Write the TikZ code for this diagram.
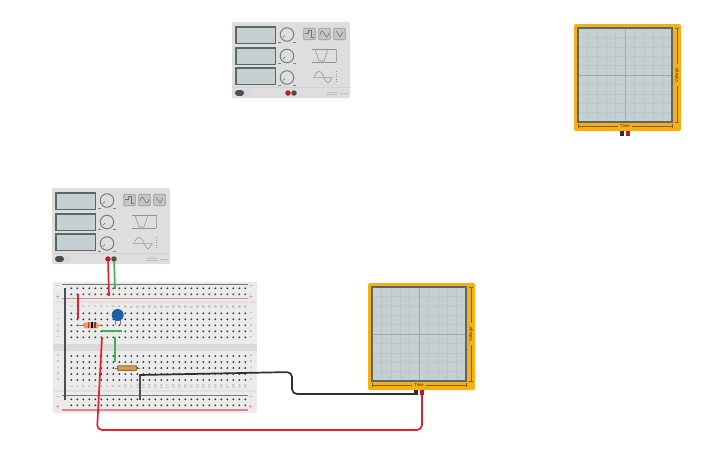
\documentclass[tikz,border=0pt]{standalone}
\usepackage{fontspec}
\setmainfont{Liberation Sans}
\usetikzlibrary{positioning, arrows.meta}
\definecolor{panelgray}{HTML}{DEDEDE}
\definecolor{screengray}{HTML}{C6D0D3}
\definecolor{screenedge}{HTML}{5C6868}
\definecolor{gridgray}{HTML}{BCC6C9}
\definecolor{scopeorange}{HTML}{F5AF17}
\definecolor{boardgray}{HTML}{EBEBEB}
\definecolor{boardband}{HTML}{DADADA}
\definecolor{railred}{HTML}{D98A8A}
\definecolor{railgray}{HTML}{777777}
\definecolor{holegray}{HTML}{3A3F42}
\definecolor{wirered}{HTML}{E3202B}
\definecolor{wiregreen}{HTML}{3DB54A}
\definecolor{wiredark}{HTML}{2B2F33}
\definecolor{restan}{HTML}{D9A75F}
\definecolor{resbrown}{HTML}{A5652A}
\definecolor{capblue}{HTML}{1F5FA8}
\tikzset{
	display/.style={draw=screenedge, line width=1.5pt, fill=screengray, minimum width=39.5pt, minimum height=16.5pt, inner sep=0pt},
	knob/.style={draw=screenedge!85, line width=1pt, circle, fill=panelgray, minimum size=13.5pt, inner sep=0pt},
	wavebtn/.style={draw=gray!80, line width=.6pt, fill=gray!45, rounded corners=.8pt, minimum size=11.5pt, inner sep=0pt},
	wave/.style={draw=gray!85, line width=.55pt},
	post/.style={circle, minimum size=5.5pt, inner sep=0pt},
	probe/.style={minimum width=3.6pt, minimum height=5pt, inner sep=0pt},
	wire/.style={line width=1.7pt, rounded corners=5pt},
	tiny/.style={font=\fontsize{3}{3.5}\selectfont, text=black!55, inner sep=0pt},
	axislabel/.style={font=\fontsize{4.2}{5}\selectfont, text=black!80, inner sep=0pt},
	psupanel/.pic={
		\fill[panelgray, rounded corners=1pt] (0,0) rectangle (118,76);
		\node[display] (-d1) at (23.5,13) {};
		\node[display] (-d2) at (23.5,34) {};
		\node[display] (-d3) at (23.5,54) {};
		\node[knob] (-k1) at (55,12.5) {};
		\node[knob] (-k2) at (55,34) {};
		\node[knob] (-k3) at (55,55.5) {};
		\foreach \k in {12.5,34,55.5} {
			\draw[screenedge, line width=.5pt] (51,\k+3) -- (53,\k+1);
			\draw[gray, line width=.4pt] (46,\k+7.5) -- (49,\k+7.5) (61,\k+7.5) -- (64,\k+7.5);
		}
		\node[wavebtn] (-b1) at (77.5,12) {};
		\node[wavebtn] (-b2) at (92.5,12) {};
		\node[wavebtn] (-b3) at (107.5,12) {};
		\draw[wave, draw=black!55] (73,11) -- (76,11) -- (76,8) -- (79,8) -- (79,15) -- (82,15);
		\draw[wave, draw=black!55] (88,13) sin (90,9) cos (92.5,12) sin (95,15) cos (97,11);
		\draw[wave, draw=black!55] (104,9) -- (108,15) -- (111,10);
		\draw[wave] (80,27) -- (104,27) (80,40) -- (104,40);
		\draw[wave] (83,27) -- (87,39) -- (92,39) -- (96,27);
		\draw[wave, draw=gray!70, line width=1pt] (104,27) -- (104,40);
		\draw[wave] (82,55) sin (87,49) cos (92,55) sin (96,61) cos (100,55);
		\draw[wave, draw=gray!60] (81,55) -- (101,55);
		\draw[wave, dotted, line width=.9pt] (104,49) -- (104,61);
		\draw[panelgray!94!black, line width=.4pt] (0,65.5) -- (118,65.5);
		\draw[line width=6pt, line cap=round, draw=gray!30] (8,71) -- (15,71);
		\draw[line width=6pt, line cap=round, draw=wiredark!85] (6,71) -- (9,71);
		\node[post, fill=wirered!85!black] (-red) at (56,71) {};
		\node[post, fill=wiredark!85] (-blk) at (62,71) {};
		\draw[panelgray!85!black, line width=.5pt] (95,70) -- (105,70) (95,72) -- (105,72) (108,71) -- (116,71);
	},
	scopepanel/.pic={
		\fill[scopeorange, rounded corners=1.5pt] (0,0) rectangle (107,107);
		\fill[screengray] (4,4) rectangle (98,98);
		\foreach \k in {1,...,9} {
			\draw[gridgray, line width=.35pt] (4+9.4*\k,4) -- (4+9.4*\k,98);
			\draw[gridgray, line width=.35pt] (4,4+9.4*\k) -- (98,4+9.4*\k);
		}
		\draw[gridgray!85!black, line width=.5pt] (51,4) -- (51,98) (4,51) -- (98,51);
		\draw[screenedge, line width=1.4pt] (4,4) rectangle (98,98);
		\node[axislabel] (-time) at (51,102) {Time};
		\node[axislabel, rotate=90] (-volt) at (103,51) {Voltage};
		\draw[black!45!scopeorange, line width=.35pt, |-] (4,102) -- (44,102);
		\draw[black!45!scopeorange, line width=.35pt, -|] (58,102) -- (98,102);
		\draw[black!45!scopeorange, line width=.35pt, |-] (103,4) -- (103,40);
		\draw[black!45!scopeorange, line width=.35pt, -|] (103,62) -- (103,98);
		\node[probe, fill=wiredark] (-blk) at (48,109) {};
		\node[probe, fill=wirered!80!black] (-red) at (54,109) {};
	},
}
\begin{document}
\begin{tikzpicture}[x=1pt,y=-1pt]
	\useasboundingbox (0,0) rectangle (725,453);

	% supplies and scopes
	\pic (psutop) at (232,22) {psupanel};
	\pic (psuboard) at (52,188) {psupanel};
	\pic (scopetop) at (574,24) {scopepanel};
	\pic (scopeboard) at (368,283) {scopepanel};

	% breadboard
	\fill[boardgray] (53,282) rectangle (257,413);
	\fill[boardband] (53,344) rectangle (257,351);
	\fill[boardband!60!boardgray] (53,301) rectangle (257,303);
	\fill[boardband!60!boardgray] (53,390) rectangle (257,392);
	\draw[railgray, line width=1pt] (62,284) -- (248,284) (62,395) -- (248,395);
	\draw[railred, line width=1.3pt] (62,298.7) -- (248,298.7) (62,410) -- (248,410);
	\foreach \row in {288.3,294.3,313.3,319.3,325.3,331.3,337.3,356,362,368,374,380,399.3,405.3} {
		\foreach \col in {0,...,29} {
			\fill[holegray] (71.3+6*\col,\row) circle (1.05pt);
		}
	}
	\foreach \col in {1,...,30} {
		\node[tiny, rotate=90] (ctop\col) at (65.3+6*\col,307) {\col};
		\node[tiny, rotate=90] (cbot\col) at (65.3+6*\col,386.5) {\col};
	}
	\foreach \lbl/\row in {j/313.3,i/319.3,h/325.3,g/331.3,f/337.3,e/356,d/362,c/368,b/374,a/380} {
		\node[tiny, rotate=90] at (58,\row) {\lbl};
		\node[tiny, rotate=90] at (251,\row) {\lbl};
	}
	\foreach \side in {58,251} {
		\node[tiny] at (\side,286) {$-$};
		\node[tiny, text=wirered] at (\side,297.5) {$+$};
		\node[tiny] at (\side,397) {$-$};
		\node[tiny, text=wirered] at (\side,407.5) {$+$};
	}

	% wire ends on the board
	\coordinate (railp) at (109,296);
	\coordinate (railn) at (115,289);
	\coordinate (jumpa) at (78,294);
	\coordinate (jumpb) at (78,319.3);
	\coordinate (gnda) at (65.3,288);
	\coordinate (gndb) at (65.3,400);
	\coordinate (linka) at (102,331.3);
	\coordinate (linkb) at (122,331.3);
	\coordinate (vina) at (102,337.3);
	\coordinate (stepa) at (115,337.3);
	\coordinate (stepb) at (115,362);
	\coordinate (outa) at (139.5,375);
	\coordinate (outb) at (139.5,400);

	% parts
	\draw[gray, line width=1pt] (77,325.3) -- (103,325.3);
	\node[fill=restan, rounded corners=1.5pt, minimum width=15pt, minimum height=6pt, inner sep=0pt] (resa) at (91,325.3) {};
	\fill[wirered] (87.5,322.3) rectangle (89.3,328.3);
	\fill[black] (91.3,322.3) rectangle (93,328.3);
	\fill[resbrown!70!black] (94,322.3) rectangle (95.7,328.3);
	\draw[gray, line width=1pt] (115,319) -- (115,325.3) (120.5,319) -- (120.5,325.3);
	\node[fill=capblue, circle, minimum size=12pt, inner sep=0pt] (capa) at (117.7,315) {};
	\draw[resbrown, line width=1pt] (115,368) -- (140,368);
	\node[fill=restan!85!resbrown, draw=resbrown, line width=1pt, rounded corners=.5pt, minimum width=19pt, minimum height=4.5pt, inner sep=0pt] (resb) at (127,368) {};

	% wires
	\draw[wire, wiredark!85, line width=2pt] (gnda) -- (gndb);
	\draw[wire, wirered] (jumpa) -- (jumpb);
	\draw[wire, wirered] (psuboard-red) -- (railp);
	\draw[wire, wiregreen] (psuboard-blk) -- (railn);
	\draw[wire, wiregreen] (linka) -- (linkb);
	\draw[wire, wiregreen] (stepa) -- (stepb);
	\draw[wire, wiredark!85, line width=2pt] (outa) -- (outb);
	\draw[wire, wiredark] (outa) -- (292,372) -- (292,394) [sharp corners] -| (scopeboard-blk.center);
	\draw[wire, wirered] (vina) -- (97,430) -- (422,430) -- (scopeboard-red);
\end{tikzpicture}
\end{document}
